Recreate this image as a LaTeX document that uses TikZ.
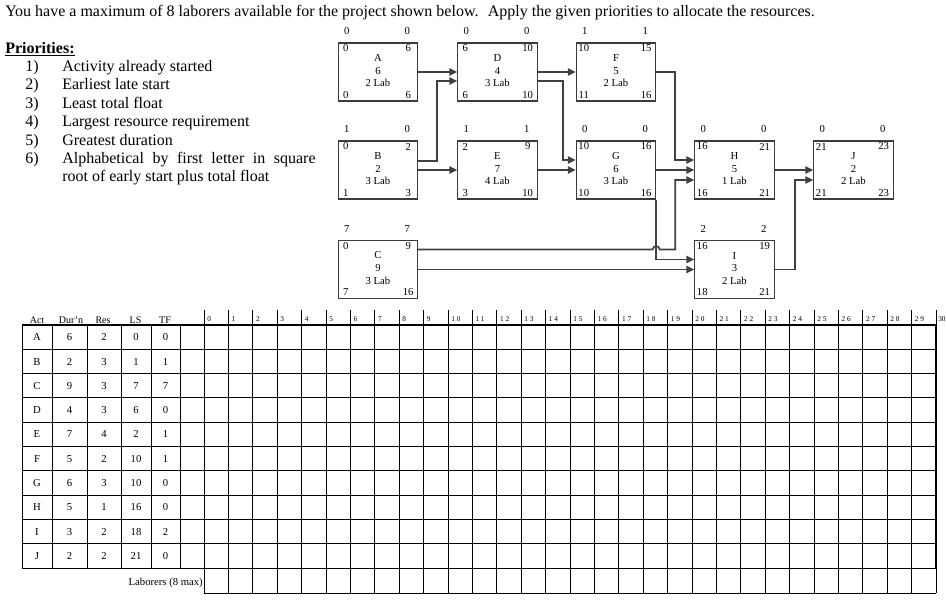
\documentclass[tikz,border=0pt]{standalone}
\usepackage{fontspec}
\setmainfont{Liberation Serif}
\newfontfamily\tickfont{Liberation Serif}[LetterSpace=25]
\usetikzlibrary{arrows.meta,calc}
\definecolor{conngray}{HTML}{404040}
\definecolor{boxgray}{HTML}{3C3C3C}
\newcommand\actbox[6]{%
  \node[actbox] (#1) at (#2,#3) {};
  \node[boxtxt] (#1-l) at ($(#1.center)+(0,-14)$) {#4};
  \node[boxtxt] (#1-d) at ($(#1.center)+(0,-1)$) {#5};
  \node[boxtxt] (#1-r) at ($(#1.center)+(0,11)$) {#6 Lab};
}
\newcommand\actnums[7]{%
  \node[boxtxt] (#1-es) at ($(#1.north west)+(8,6)$) {#2};
  \node[boxtxt] (#1-ef) at ($(#1.north east)+(-10,6)$) {#3};
  \node[boxtxt] (#1-ls) at ($(#1.south west)+(8,-7)$) {#4};
  \node[boxtxt] (#1-lf) at ($(#1.south east)+(-10,-7)$) {#5};
  \node[boxtxt] (#1-fl) at ($(#1.north west)+(9,-11)$) {#6};
  \node[boxtxt] (#1-fr) at ($(#1.north east)+(-11,-11)$) {#7};
}
\begin{document}
\begin{tikzpicture}[x=0.75pt,y=-0.75pt,
  actbox/.style={draw=boxgray, line width=0.8pt, minimum width=59.5pt, minimum height=43.5pt, inner sep=0pt},
  boxtxt/.style={font=\fontsize{8}{9}\selectfont, inner sep=0pt},
  conn/.style={draw=conngray, line width=1.2pt, -{Triangle[length=6pt,width=5.5pt]}},
  bigtxt/.style={font=\fontsize{12}{14}\selectfont, inner sep=0pt, anchor=base west},
  celltxt/.style={font=\fontsize{8}{9}\selectfont, inner sep=0pt, anchor=base},
  headtxt/.style={font=\fontsize{7.5}{9}\selectfont, inner sep=0pt, anchor=base},
  ticktxt/.style={font=\tickfont\fontsize{5.5}{6}\selectfont, inner sep=0pt, anchor=base west},
  gridline/.style={line width=0.75pt, black},
  thickline/.style={line width=1.6pt, black}
]
\useasboundingbox (0,0) rectangle (946,601);

% ---------- header text ----------
\node[bigtxt] (title) at (5,16) {You have a maximum of 8 laborers available for the project shown below.~ Apply the given priorities to allocate the resources.};
\node[bigtxt] (prio) at (5,53) {\underline{\textbf{Priorities:}}};
\foreach \n/\t/\yy [count=\i] in {1)/Activity already started/71.5,
  2)/Earliest late start/89.9,
  3)/Least total float/108.3,
  4)/Largest resource requirement/126.7,
  5)/Greatest duration/145.1}{
  \node[bigtxt] (pn\i) at (25,\yy) {\n};
  \node[bigtxt] (pt\i) at (62,\yy) {\t};
}
\node[bigtxt] (pn6) at (25,163.5) {6)};
\node[bigtxt] (pt6) at (62,163.5) {\makebox[190pt][s]{Alphabetical by first letter in square}};
\node[bigtxt] (pt7) at (62,181.9) {root of early start plus total float};

% ---------- network ----------
\actbox{A}{378}{72}{A}{6}{2}
\actbox{D}{497.5}{72}{D}{4}{3}
\actbox{F}{616}{72}{F}{5}{2}
\actbox{B}{378}{170}{B}{2}{3}
\actbox{E}{497.5}{170}{E}{7}{4}
\actbox{G}{616}{170}{G}{6}{3}
\actbox{H}{734.5}{170}{H}{5}{1}
\actbox{J}{853.5}{170}{J}{2}{2}
\actbox{C}{378}{269.5}{C}{9}{3}
\actbox{I}{734.5}{269.5}{I}{3}{2}

\actnums{A}{0}{6}{0}{6}{0}{0}
\actnums{D}{6}{10}{6}{10}{0}{0}
\actnums{F}{10}{15}{11}{16}{1}{1}
\actnums{B}{0}{2}{1}{3}{1}{0}
\actnums{E}{2}{9}{3}{10}{1}{1}
\actnums{G}{10}{16}{10}{16}{0}{0}
\actnums{H}{16}{21}{16}{21}{0}{0}
\actnums{J}{21}{23}{21}{23}{0}{0}
\actnums{C}{0}{9}{7}{16}{7}{7}
\actnums{I}{16}{19}{18}{21}{2}{2}

\draw[conn] (A.east) -- (D.west);
\draw[conn] ($(B.east)+(0,-9)$) -- ++(19,0) |- ($(D.west)+(0,9)$);
\draw[conn] (B.east) -- (E.west);
\draw[conn] (D.east) -- (F.west);
\draw[conn] ($(D.east)+(0,9)$) -- ++(25,0) |- ($(G.west)+(0,-10)$);
\draw[conn] (E.east) -- (G.west);
\draw[conn] (F.east) -- ++(19,0) |- ($(H.west)+(0,-10)$);
\draw[conn] (G.east) -- (H.west);
\draw[conn] ($(C.east)+(0,-20)$) -- ($(G.south east |- C.east)+(-3.5,-20)$)
  arc[start angle=180,end angle=0,radius=2.6pt] -- ($(F.east |- C.east)+(19,-20)$) |- ($(H.west)+(0,10)$);
\draw[conn] ($(G.south east)+(-0.5,0)$) |- ($(I.west)+(0,-10)$);
\draw[conn] (C.east) -- (I.west);
\draw[conn] (H.east) -- (J.west);
\draw[conn] (I.east) -- ++(20,0) |- ($(J.west)+(0,10)$);

% ---------- table ----------
\def\rowh{24.3}
% horizontal lines
\foreach \i in {1,...,10}{
  \draw[gridline] (22,{325+\i*\rowh}) -- (936,{325+\i*\rowh});
}
\draw[gridline] (204,593) -- (936,593);
% left vertical lines
\foreach \xx in {22,52,87,121,151,180}{
  \draw[gridline] (\xx,325) -- (\xx,568);
}
% time columns
\foreach \k in {0,...,29}{
  \draw[gridline] ({204+\k*24.4},310) -- ({204+\k*24.4},593);
  \node[ticktxt] (tk\k) at ({207+\k*24.4},321.5) {\k};
}
\draw[gridline] (936,310) -- (936,593);
\node[font=\fontsize{5.5}{6}\selectfont, inner sep=0pt, anchor=base west] (tk30) at (938,321.5) {30};
\draw[thickline] (936,325) -- (936,568);
\draw[thickline] (21.5,325) -- (936.5,325);

% headers
\node[headtxt] (hAct) at (37,323) {Act};
\node[headtxt] (hDur) at (71,323) {Dur'n};
\node[headtxt] (hRes) at (103,323) {Res};
\node[headtxt] (hLS) at (135.5,323) {LS};
\node[headtxt] (hTF) at (165,323) {TF};

\foreach \a/\d/\r/\l/\t [count=\i from 0] in {A/6/2/0/0,B/2/3/1/1,C/9/3/7/7,D/4/3/6/0,E/7/4/2/1,F/5/2/10/1,G/6/3/10/0,H/5/1/16/0,I/3/2/18/2,J/2/2/21/0}{
  \pgfmathsetmacro\yb{325+(\i+0.5)*\rowh+3.6}
  \node[celltxt] (ca\i) at (37,\yb) {\a};
  \node[celltxt] (cd\i) at (69.5,\yb) {\d};
  \node[celltxt] (cr\i) at (104,\yb) {\r};
  \node[celltxt] (cl\i) at (136,\yb) {\l};
  \node[celltxt] (ct\i) at (165.5,\yb) {\t};
}
\node[celltxt, anchor=base east] (labr) at (203,585) {Laborers (8 max)};
\end{tikzpicture}
\end{document}
